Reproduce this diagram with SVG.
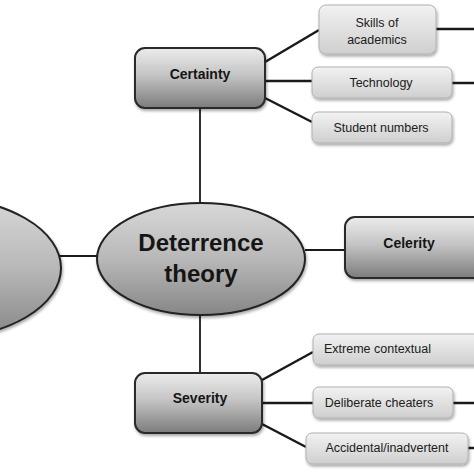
<svg xmlns="http://www.w3.org/2000/svg" width="474" height="474" viewBox="0 0 474 474">
<defs>
<linearGradient id="gMain" x1="0" y1="0" x2="0" y2="1">
<stop offset="0" stop-color="#ececec"/>
<stop offset="0.45" stop-color="#c4c4c4"/>
<stop offset="1" stop-color="#7c7c7c"/>
</linearGradient>
<linearGradient id="gEll" x1="0" y1="0" x2="0" y2="1">
<stop offset="0" stop-color="#d8d8d8"/>
<stop offset="0.5" stop-color="#b8b8b8"/>
<stop offset="1" stop-color="#868686"/>
</linearGradient>
<linearGradient id="gSmall" x1="0" y1="0" x2="0" y2="1">
<stop offset="0" stop-color="#f2f2f2"/>
<stop offset="1" stop-color="#cfcfcf"/>
</linearGradient>
<filter id="sh" x="-10%" y="-10%" width="125%" height="130%">
<feGaussianBlur in="SourceAlpha" stdDeviation="1.5"/>
<feOffset dx="1" dy="2"/>
<feComponentTransfer><feFuncA type="linear" slope="0.35"/></feComponentTransfer>
<feMerge><feMergeNode/><feMergeNode in="SourceGraphic"/></feMerge>
</filter>
</defs>
<style>
.main{fill:url(#gMain);stroke:#2a2a2a;stroke-width:2}
.ell{fill:url(#gEll);stroke:#222;stroke-width:2}
.small{fill:url(#gSmall);stroke:#b0b0b0;stroke-width:1}
.con{stroke:#1a1a1a;stroke-width:2.5;fill:none}
.con2{stroke:#1a1a1a;stroke-width:1.8;fill:none}
text{font-family:"Liberation Sans",Arial,sans-serif;text-anchor:middle;fill:#151515}
.b{font-weight:bold;font-size:14px}
.big{font-weight:bold;font-size:24px}
.s{font-size:12.5px;fill:#202020}
</style>
<rect width="474" height="474" fill="#ffffff"/>
<g id="connectors">
<line class="con2" x1="200" y1="108" x2="200" y2="203"/>
<line class="con2" x1="200" y1="315" x2="200" y2="373"/>
<line class="con2" x1="60" y1="256" x2="97" y2="256"/>
<line class="con2" x1="305" y1="250" x2="345" y2="250"/>
<line class="con" x1="265" y1="62" x2="319" y2="30"/>
<line class="con" x1="265" y1="81" x2="312" y2="81"/>
<line class="con" x1="265" y1="98" x2="312" y2="122"/>
<line class="con" x1="436" y1="29" x2="474" y2="29"/>
<line class="con" x1="452" y1="83" x2="474" y2="83"/>
<line class="con" x1="262" y1="380" x2="313" y2="352"/>
<line class="con" x1="262" y1="403" x2="313" y2="403"/>
<line class="con" x1="262" y1="424" x2="306" y2="447"/>
<line class="con" x1="453" y1="403" x2="474" y2="403"/>
<line class="con" x1="468" y1="448" x2="474" y2="448"/>
</g>
<g id="left-ellipse">
<ellipse class="ell" cx="-60" cy="268" rx="121" ry="70" filter="url(#sh)"/>
</g>
<g id="deterrence">
<ellipse class="ell" cx="201" cy="259" rx="104" ry="56" filter="url(#sh)"/>
<text class="big" x="201" y="251">Deterrence</text>
<text class="big" x="201" y="282">theory</text>
</g>
<g id="certainty">
<rect class="main" x="135" y="48" width="130" height="60" rx="10" filter="url(#sh)"/>
<text class="b" x="200" y="79">Certainty</text>
</g>
<g id="skills">
<rect class="small" x="319" y="5" width="117" height="49" rx="7" filter="url(#sh)"/>
<text class="s" x="377" y="27">Skills of</text>
<text class="s" x="377" y="44">academics</text>
</g>
<g id="technology">
<rect class="small" x="312" y="67" width="140" height="31" rx="6" filter="url(#sh)"/>
<text class="s" x="381" y="87">Technology</text>
</g>
<g id="student">
<rect class="small" x="312" y="112" width="140" height="31" rx="6" filter="url(#sh)"/>
<text class="s" x="381" y="132">Student numbers</text>
</g>
<g id="celerity">
<rect class="main" x="345" y="217" width="140" height="61" rx="10" filter="url(#sh)"/>
<text class="b" x="409" y="248">Celerity</text>
</g>
<g id="severity">
<rect class="main" x="135" y="373" width="127" height="60" rx="10" filter="url(#sh)"/>
<text class="b" x="200" y="403">Severity</text>
</g>
<g id="extreme">
<rect class="small" x="313" y="334" width="175" height="31" rx="6" filter="url(#sh)"/>
<text class="s" x="324" y="353" style="text-anchor:start">Extreme contextual</text>
</g>
<g id="deliberate">
<rect class="small" x="313" y="387" width="140" height="31" rx="6" filter="url(#sh)"/>
<text class="s" x="379" y="407">Deliberate cheaters</text>
</g>
<g id="accidental">
<rect class="small" x="306" y="433" width="162" height="31" rx="6" filter="url(#sh)"/>
<text class="s" x="387" y="452">Accidental/inadvertent</text>
</g>
</svg>
